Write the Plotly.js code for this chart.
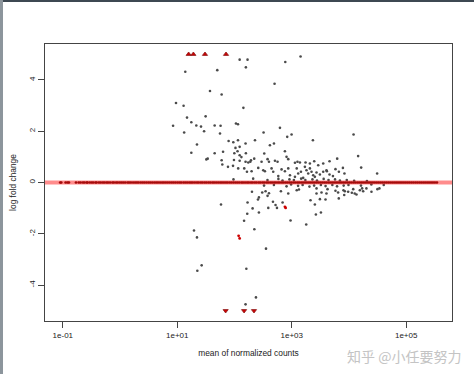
<!DOCTYPE html>
<html>
<head>
<meta charset="utf-8">
<script src="https://cdn.plot.ly/plotly-3.0.1.min.js"></script>
<style>
html,body{margin:0;padding:0;background:#fff;}
#chart{width:474px;height:374px;}
</style>
</head>
<body>
<div id="chart"></div>
<script>
// ---- data (mean of normalized counts, log fold change) ----
const upMean = [123,169,771,1426,13.8,50,158,501,37.3,59.6,
  9.5,12.9,143,8.45,14.8,17.6,21.5,26.0,31.3,45.0,
  57.1,13.2,29.4,55.8,106,115,22.1,17.6,45.0,63.1,
  78.9,95.3,115,104,123,156,113,99.3,123,132,
  158,32.2,34.0,59.6,61.2,76.9,94.2,116,97.9,123,
  156,189,148,165];
const upLfc = [4.79,4.79,4.70,4.91,4.32,4.38,4.49,3.85,3.57,3.43,
  3.10,2.99,2.91,2.21,2.53,2.35,2.22,2.18,2.58,2.22,
  2.21,1.95,2.00,1.91,2.30,2.27,1.48,1.16,1.14,1.20,
  1.62,1.57,1.65,1.35,1.39,1.52,1.22,1.14,1.06,0.99,
  1.14,0.90,0.93,0.87,0.70,0.61,0.65,0.55,0.88,0.85,
  0.81,0.81,0.55,0.42];

const midMean = [228,322,416,489,622,834,993,2344,760,331,
  221,194,174,297,378,400,509,565,811,869,
  1138,1259,1390,1742,2075,2472,2904,3548,260,318,
  340,444,475,664,760,869,931,1222,1297,1449,
  1698,1811,1941,2075,2218,2371,2710,3105,3548,4046,
  199,582,1138,1585,2535,12023,14454,6223,4571,16331,
  31046,5808,7834,4111,6668,8337,4571,5248];
const midLfc = [1.65,1.95,1.45,1.52,2.13,1.78,1.87,1.65,1.22,1.13,
  0.93,0.87,0.78,0.81,0.91,0.81,0.85,0.81,1.00,0.91,
  0.77,0.81,0.78,0.78,0.74,0.83,0.67,0.74,0.57,0.48,
  0.44,0.55,0.42,0.51,0.44,0.55,0.28,0.55,0.35,0.42,
  0.61,0.48,0.35,0.55,0.42,0.28,0.39,0.31,0.42,0.48,
  0.44,0.25,0.22,0.18,0.22,1.87,1.03,0.93,0.83,0.58,
  0.35,0.52,0.57,0.44,0.42,0.35,0.31,0.25];

const downMean = [202,305,349,400,267,257,378,169,207,267,
  389,470,521,552,58.1,167,147,222,19.6,22.1,
  355,
  647,869,1222,1337,2128,2535,2710,2710,3311,4217,
  4046,3105,3890,5808,6457,8017,8472,9683,6637,8260,
  11858,12589,11220,13521,15488,16982,17701,20184,24717,31413,
  34041,692,
  953,1791,2642,3236,22.4,26.7,161,237,156];
const downLfc = [-0.36,-0.39,-0.34,-0.42,-0.58,-0.66,-0.52,-0.78,-1.01,-1.17,
  -0.99,-0.75,-0.88,-0.99,-0.86,-1.22,-1.49,-1.82,-1.87,-2.14,
  -2.58,
  -0.34,-0.43,-0.30,-0.27,-0.69,-0.86,-0.23,-0.43,-0.39,-0.26,
  -0.43,-0.65,-0.66,-0.32,-0.39,-0.30,-0.34,-0.36,-0.62,-0.49,
  -0.26,-0.43,-0.40,-0.47,-0.30,-0.23,-0.34,-0.23,-0.36,-0.26,
  -0.23,-0.78,
  -1.48,-1.64,-1.25,-1.17,-3.44,-3.23,-3.36,-4.48,-4.75];

const nearMean = [96,212,377,585,690,912,1090,1460,1730,2300,2760,3610,4390,5710,6940,9150,12300,20600,
  328,488,812,975,1290,1550,2040,2460,3230,3900,5120,6190,8080,9800,16200,24600,40500];
const nearLfc = [0.12,0.15,0.10,0.14,0.08,0.12,0.10,0.15,0.10,0.12,0.08,0.14,0.10,0.12,0.08,0.10,0.07,0.06,
  -0.12,-0.10,-0.15,-0.08,-0.13,-0.10,-0.16,-0.12,-0.10,-0.14,-0.10,-0.15,-0.12,-0.10,-0.12,-0.08,-0.10];

// genes with fold change of (about) zero: a dense band along the line
const flatMean = [0.09,0.094,0.112,0.121,0.128,
  0.17,0.19,0.205,0.225,0.24,0.262,0.27,0.295,0.318,0.34,0.372,0.39,0.428,0.46,0.5,0.535,0.58,0.618,0.67,0.735,0.78,0.852,0.91,0.985,
  1.06,1.14,1.23,1.35,1.44,1.55,1.69,1.83,1.97,2.11,2.3,2.49,2.68,2.9,3.14,3.38,3.66,3.97,4.28,4.61,5.0,5.42,5.83,6.31,6.82,7.38,8.0,8.62,9.3,
  10.1,10.9,11.7,12.8,13.8,14.9,16.2,17.4,18.7,20.3,22.1,23.7,25.8,27.7,30.1,32.4,35.2,37.9,41.2,44.1,47.8,51.9,56.2,60.4,65.3,70.6,75.9,82.4,88.7,96.1,
  104,112,121,132,141,153,166,178,194,208,226,243,265,284,309,332,361,388,421,454,493,530,575,619,672,724,784,846,916,988,
  1071,1153,1252,1348,1462,1578,1707,1843,1996,2153,2332,2517,2723,2938,3182,3436,3721,4015,4353,4698,5084,5487,5943,6418,6947,7495,8114,8768,9485,
  10260,11070,11990,12940,14010,15120,16370,17680,19130,20660,22360,24150,26130,28230,30540,32990,35690,38560,41720,45070,48750,52680,56970,61570,66590,71960,77820,84110,90950,98310,
  106300,114800,124200,134200,145300,156900,169800,183400,198400,214300,231900,250500,271000,292800,316800,344000];

// significant genes
const sigMean = [760,782,118,123];
const sigLfc = [-0.95,-0.99,-2.08,-2.18];

// genes beyond the y limits (drawn as triangles at the limit)
const yLimit = 5;
const overMean = [15.8,19.1,30.5,71.1];
const underMean = [70,147,219];

// axis ticks
const xTickVals = [0.1, 10, 1000, 100000];
const xTickText = ['1e-01','1e+01','1e+03','1e+05'];
const yTickVals = [-4,-2,0,2,4];
const yTickText = ['-4','-2','0','2','4'];

// ---- styling ----
const colNonSig = '#4a4a4a';
const colSig = '#cd0000';
const fontFam = '"Liberation Sans", Arial, Helvetica, sans-serif';

const nsMarker = {color: colNonSig, size: 2.6};

const traces = [
  {x: flatMean, y: flatMean.map(() => 0), type: 'scatter', mode: 'markers', marker: {color: '#5c1414', size: 2.7}, hoverinfo: 'skip'},
  {x: upMean, y: upLfc, type: 'scatter', mode: 'markers', marker: nsMarker},
  {x: midMean, y: midLfc, type: 'scatter', mode: 'markers', marker: nsMarker},
  {x: downMean, y: downLfc, type: 'scatter', mode: 'markers', marker: nsMarker},
  {x: nearMean, y: nearLfc, type: 'scatter', mode: 'markers', marker: nsMarker},
  {x: sigMean, y: sigLfc, type: 'scatter', mode: 'markers', marker: {color: colSig, size: 2.8}},
  {x: overMean, y: overMean.map(() => yLimit), type: 'scatter', mode: 'markers',
   marker: {symbol: 'triangle-up', color: colSig, size: 4.5, line: {width: 0.8, color: '#8b1a1a'}}},
  {x: underMean, y: underMean.map(() => -yLimit), type: 'scatter', mode: 'markers',
   marker: {symbol: 'triangle-down', color: colSig, size: 4.5, line: {width: 0.8, color: '#8b1a1a'}}}
];

const W = 474, H = 374, mL = 45, mR = 22, mT = 44, mB = 53;
const pw = W - mL - mR, ph = H - mT - mB;
const px2x = p => (p - mL) / pw;
const py2y = p => (H - mB - p) / ph;

const layout = {
  width: W, height: H,
  margin: {l: mL, r: mR, t: mT, b: mB, pad: 0},
  paper_bgcolor: '#ffffff', plot_bgcolor: '#ffffff',
  showlegend: false,
  font: {family: fontFam, color: '#222', size: 8},
  xaxis: {
    type: 'log', range: [-1.311, 5.80],
    tickvals: xTickVals, ticktext: xTickText,
    ticks: 'outside', ticklen: 6, tickwidth: 1, tickcolor: '#444',
    showline: true, mirror: true, linecolor: '#444', linewidth: 1,
    showgrid: false, zeroline: false,
    tickfont: {size: 8, family: fontFam, color: '#222'},
    title: {text: 'mean of normalized counts', font: {size: 8.4, family: fontFam, color: '#222'}, standoff: 11}
  },
  yaxis: {
    range: [-5.4, 5.4],
    tickvals: yTickVals, ticktext: yTickText, tickangle: -90,
    ticks: 'outside', ticklen: 6, tickwidth: 1, tickcolor: '#444',
    showline: true, mirror: true, linecolor: '#444', linewidth: 1,
    showgrid: false, zeroline: false,
    tickfont: {size: 8, family: fontFam, color: '#222'},
    title: {text: 'log fold change', font: {size: 8.4, family: fontFam, color: '#222'}, standoff: 9}
  },
  shapes: [
    {type: 'line', xref: 'paper', yref: 'y', x0: 0, x1: 1, y0: 0, y1: 0,
     line: {color: 'rgba(255,0,0,0.45)', width: 4}, layer: 'above'},
    // screenshot frame: top bar and left border
    {type: 'rect', xref: 'paper', yref: 'paper', x0: px2x(0), x1: px2x(W), y0: py2y(2), y1: py2y(0),
     fillcolor: '#3d4852', line: {width: 0}},
    {type: 'rect', xref: 'paper', yref: 'paper', x0: px2x(0), x1: px2x(3), y0: py2y(H), y1: py2y(0),
     fillcolor: '#8c959c', line: {width: 0}}
  ],
  annotations: [
    {text: '知乎 @小任要努力', xref: 'paper', yref: 'paper', x: px2x(463), y: py2y(356),
     xanchor: 'right', yanchor: 'middle', showarrow: false,
     font: {family: '"Noto Sans CJK SC", sans-serif', size: 14, color: '#c4c4c4'}}
  ]
};

Plotly.newPlot('chart', traces, layout, {staticPlot: true, displayModeBar: false});
</script>
</body>
</html>
